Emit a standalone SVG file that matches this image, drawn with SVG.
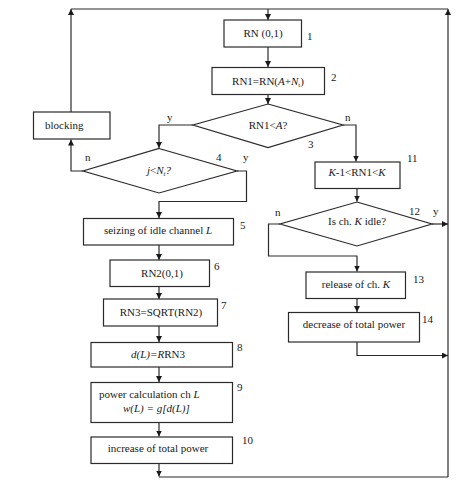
<svg xmlns="http://www.w3.org/2000/svg" width="474" height="481" viewBox="0 0 474 481">
<style>
.b{fill:#fff;stroke:#2a2a2a;stroke-width:1.2}
.l{fill:none;stroke:#2a2a2a;stroke-width:1.2}
text{font-family:"Liberation Serif","Times New Roman",serif;font-size:11px;fill:#1a1a1a}
.c{text-anchor:middle}
.i{font-style:italic}
.s{font-size:7px}
</style>
<defs>
<marker id="a" viewBox="0 0 10 10" refX="10" refY="5" markerWidth="6" markerHeight="6" markerUnits="userSpaceOnUse" orient="auto"><path d="M0,0L10,5L0,10z" fill="#1a1a1a"/></marker>
</defs>
<rect width="474" height="481" fill="#fff"/>
<g id="connectors">
<polyline class="l" points="448,477 448,9" marker-end="url(#a)"/>
<polyline class="l" points="71,9 448,9"/>
<polyline class="l" points="268,9 268,20" marker-end="url(#a)"/>
<polyline class="l" points="268,47 268,67" marker-end="url(#a)"/>
<polyline class="l" points="268,94 268,104" marker-end="url(#a)"/>
<polyline class="l" points="193,125 159,125 159,148" marker-end="url(#a)"/>
<polyline class="l" points="343,125 356,125 356,161.5" marker-end="url(#a)"/>
<polyline class="l" points="83,171 71,171 71,139.5" marker-end="url(#a)"/>
<polyline class="l" points="71,112 71,9" marker-end="url(#a)"/>
<polyline class="l" points="237,171 246.5,171 246.5,201.5 159,201.5 159,218" marker-end="url(#a)"/>
<polyline class="l" points="159,245 159,260" marker-end="url(#a)"/>
<polyline class="l" points="159,287 159,299" marker-end="url(#a)"/>
<polyline class="l" points="159,326 159,342" marker-end="url(#a)"/>
<polyline class="l" points="159,367 159,382" marker-end="url(#a)"/>
<polyline class="l" points="159,422 159,436.5" marker-end="url(#a)"/>
<polyline class="l" points="159,463 159,476.5" marker-end="url(#a)"/>
<polyline class="l" points="159,477 448,477"/>
<polyline class="l" points="357,188.5 357,201.5" marker-end="url(#a)"/>
<polyline class="l" points="432,224 448,224" marker-end="url(#a)"/>
<polyline class="l" points="280,224 268.5,224 268.5,256 357,256 357,271.5" marker-end="url(#a)"/>
<polyline class="l" points="357,298 357,312" marker-end="url(#a)"/>
<polyline class="l" points="357,342 357,355.5 448,355.5" marker-end="url(#a)"/>
</g>
<g id="n1"><rect class="b" x="224" y="20" width="77.5" height="27"/><text class="c" x="263" y="37">RN (0,1)</text><text x="307" y="40">1</text></g>
<g id="n2"><rect class="b" x="212" y="67.5" width="112.5" height="27"/><text class="c" x="268" y="85">RN1=RN(<tspan class="i">A</tspan>+<tspan class="i">N</tspan><tspan class="s" dy="2">t</tspan><tspan dy="-2">)</tspan></text><text x="331" y="81">2</text></g>
<g id="n3"><polygon class="b" points="268,104 343,125 268,147.5 193,125"/><text class="c" x="268" y="129">RN1&lt;<tspan class="i">A</tspan>?</text><text x="308" y="148">3</text><text x="167" y="121">y</text><text x="345" y="121">n</text></g>
<g id="n4"><polygon class="b" points="159,148.5 237,171 159,193 83,171"/><text class="c" x="159" y="174"><tspan class="i">j</tspan>&lt;<tspan class="i">N</tspan><tspan class="s i" dy="2">t</tspan><tspan class="i" dy="-2">?</tspan></text><text x="216" y="161">4</text><text x="243" y="161">y</text><text x="85" y="161">n</text></g>
<g id="blocking"><rect class="b" x="33.5" y="112" width="76.5" height="27"/><text x="45" y="129">blocking</text></g>
<g id="n5"><rect class="b" x="83.5" y="218.5" width="150" height="26.5"/><text class="c" x="158" y="234">seizing of idle channel  <tspan class="i">L</tspan></text><text x="240" y="229">5</text></g>
<g id="n6"><rect class="b" x="110" y="260" width="99.5" height="26.5"/><text class="c" x="162" y="277">RN2(0,1)</text><text x="214" y="270">6</text></g>
<g id="n7"><rect class="b" x="103.5" y="299" width="114" height="27"/><text class="c" x="161" y="316">RN3=SQRT(RN2)</text><text x="221" y="309">7</text></g>
<g id="n8"><rect class="b" x="91" y="342.5" width="141.5" height="24.5"/><text class="c" x="158" y="358"><tspan class="i">d(L)=R</tspan>RN3</text><text x="237" y="351">8</text></g>
<g id="n9"><rect class="b" x="91" y="382.5" width="141.5" height="40"/><text x="99" y="398">power calculation ch <tspan class="i">L</tspan></text><text class="i" x="123" y="412">w(L) = g[d(L)]</text><text x="237" y="391">9</text></g>
<g id="n10"><rect class="b" x="91" y="437" width="141.5" height="26.5"/><text class="c" x="158" y="452">increase of total power</text><text x="242" y="444">10</text></g>
<g id="n11"><rect class="b" x="315" y="162" width="85" height="26.5"/><text class="c" x="357" y="176"><tspan class="i">K</tspan>-1&lt;RN1&lt;<tspan class="i">K</tspan></text><text x="407" y="162">11</text></g>
<g id="n12"><polygon class="b" points="357,202 432,224 357,246 280,224"/><text class="c" x="357" y="225">Is ch. <tspan class="i">K</tspan> idle?</text><text x="409" y="215">12</text><text x="433" y="215">y</text><text x="275" y="216">n</text></g>
<g id="n13"><rect class="b" x="306" y="272" width="99.5" height="26.5"/><text class="c" x="356" y="288">release of ch. <tspan class="i">K</tspan></text><text x="413" y="283">13</text></g>
<g id="n14"><rect class="b" x="288.5" y="312.5" width="131" height="29.5"/><text class="c" x="354" y="328">decrease of total power</text><text x="422" y="323">14</text></g>
</svg>
